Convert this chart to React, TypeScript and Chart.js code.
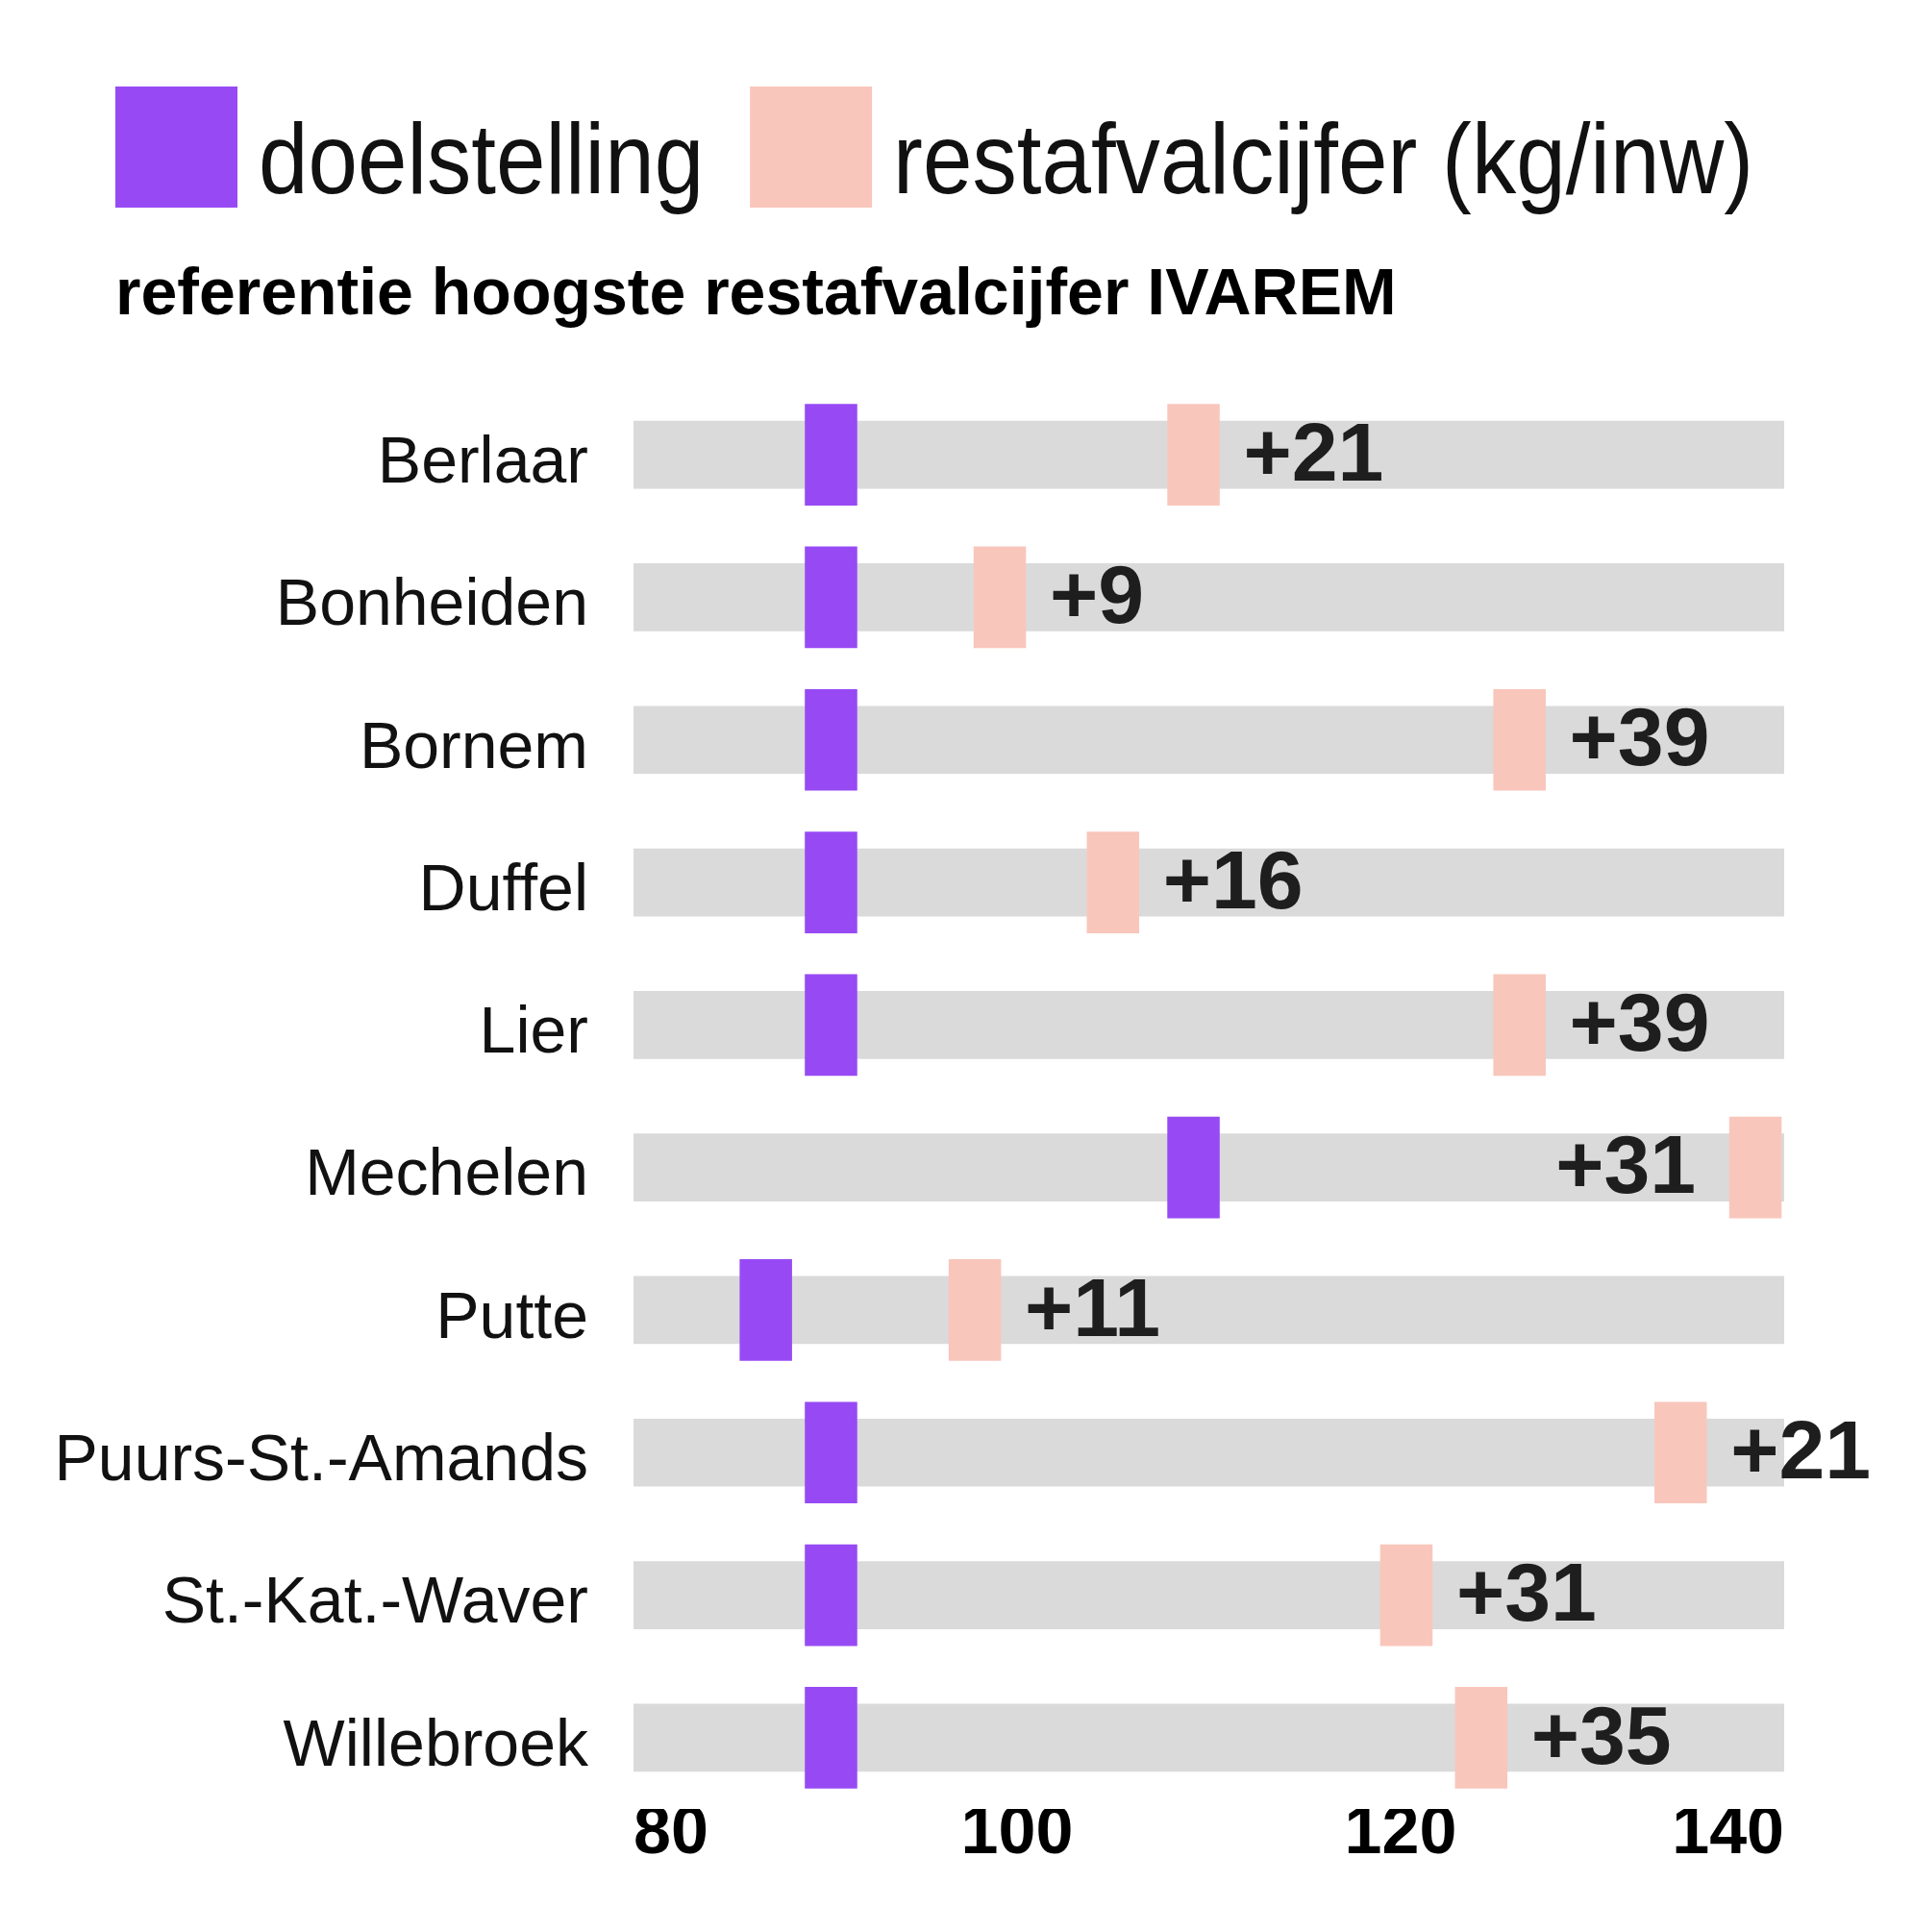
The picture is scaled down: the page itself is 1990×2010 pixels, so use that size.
import React, { useEffect, useRef } from 'react';
import { Chart, registerables } from 'chart.js';

Chart.register(...registerables);

// ---- data ----
const categories = [
  'Berlaar',
  'Bonheiden',
  'Bornem',
  'Duffel',
  'Lier',
  'Mechelen',
  'Putte',
  'Puurs-St.-Amands',
  'St.-Kat.-Waver',
  'Willebroek',
];
const doelstelling = [90.3, 90.3, 90.3, 90.3, 90.3, 109.2, 86.9, 90.3, 90.3, 90.3];
const restafvalcijfer = [109.2, 99.1, 126.2, 105.0, 126.2, 138.5, 97.8, 134.6, 120.3, 124.2];
const verschil = ['+21', '+9', '+39', '+16', '+39', '+31', '+11', '+21', '+31', '+35'];
const verschilZijde = ['rechts', 'rechts', 'rechts', 'rechts', 'rechts', 'links', 'rechts', 'rechts', 'rechts', 'rechts'];
const axisMin = 80;
const axisMax = 140;
const axisStep = 20;

const subTitle = 'referentie hoogste restafvalcijfer IVAREM';

// ---- styles ----
const PURPLE = '#974AF4';
const PINK = '#F9C6BC';
const GREY = '#DADADA';
const MARK_HALF = 1.35; // half width of a marker, in axis units

export default function App() {
  const canvasRef = useRef<HTMLCanvasElement | null>(null);

  useEffect(() => {
    if (!canvasRef.current) return;

    const legendPlugin = {
      id: 'customLegend',
      afterDraw(chart: any) {
        const ctx = chart.ctx as CanvasRenderingContext2D;
        const items = chart.data.datasets.filter((d: any) => !d.hideInLegend);
        const boxW = 127;
        const boxH = 126;
        const boxTop = 90;
        const baseline = 201;
        const scaleX = 0.89;
        let x = 120;
        ctx.save();
        ctx.font = '104px "Liberation Sans", Arial, sans-serif';
        ctx.textAlign = 'left';
        ctx.textBaseline = 'alphabetic';
        items.forEach((ds: any) => {
          ctx.fillStyle = ds.backgroundColor;
          ctx.fillRect(x, boxTop, boxW, boxH);
          x += boxW + 22;
          ctx.save();
          ctx.translate(x, baseline);
          ctx.scale(scaleX, 1);
          ctx.fillStyle = '#111111';
          ctx.fillText(ds.label, 0, 0);
          ctx.restore();
          x += ctx.measureText(ds.label).width * scaleX + 48;
        });
        // subtitle
        ctx.font = 'bold 68px "Liberation Sans", Arial, sans-serif';
        ctx.fillStyle = '#000000';
        ctx.textBaseline = 'middle';
        ctx.fillText(subTitle, 120, 308);
        ctx.restore();
      },
    };

    const valueLabelPlugin = {
      id: 'verschilLabels',
      afterDatasetsDraw(chart: any) {
        const ctx = chart.ctx as CanvasRenderingContext2D;
        const xs = chart.scales.x;
        const ys = chart.scales.y;
        ctx.save();
        ctx.font = 'bold 86px "Liberation Sans", Arial, sans-serif';
        ctx.fillStyle = '#1e1e1e';
        ctx.textBaseline = 'middle';
        restafvalcijfer.forEach((v, i) => {
          const y = ys.getPixelForValue(i) + 3;
          if (verschilZijde[i] === 'links') {
            ctx.textAlign = 'right';
            ctx.fillText(verschil[i], xs.getPixelForValue(v - MARK_HALF) - 35, y);
          } else {
            ctx.textAlign = 'left';
            ctx.fillText(verschil[i], xs.getPixelForValue(v + MARK_HALF) + 25, y);
          }
        });
        ctx.restore();
      },
    };

    const chart = new Chart(canvasRef.current, {
      type: 'bar',
      data: {
        labels: categories,
        datasets: [
          {
            label: 'doelstelling',
            data: doelstelling.map((v) => [v - MARK_HALF, v + MARK_HALF]),
            backgroundColor: PURPLE,
            barThickness: 105,
            grouped: false,
            borderWidth: 0,
          } as any,
          {
            label: 'restafvalcijfer (kg/inw)',
            data: restafvalcijfer.map((v) => [v - MARK_HALF, v + MARK_HALF]),
            backgroundColor: PINK,
            barThickness: 105,
            grouped: false,
            borderWidth: 0,
          } as any,
          {
            label: 'bereik',
            hideInLegend: true,
            data: categories.map(() => [axisMin, axisMax]),
            backgroundColor: GREY,
            barThickness: 70,
            grouped: false,
            borderWidth: 0,
          } as any,
        ],
      },
      options: {
        indexAxis: 'y',
        animation: false,
        responsive: true,
        maintainAspectRatio: false,
        devicePixelRatio: 1,
        events: [],
        layout: {
          padding: { top: 399, left: 0, right: 134, bottom: 0 },
        },
        plugins: {
          legend: { display: false },
          tooltip: { enabled: false },
          title: { display: false },
        },
        scales: {
          x: {
            type: 'linear',
            position: 'bottom',
            min: axisMin,
            max: axisMax,
            grid: { display: false, drawTicks: false },
            border: { display: false },
            ticks: {
              stepSize: axisStep,
              align: 'inner',
              padding: 0,
              color: '#000000',
              font: { family: '"Liberation Sans", Arial, sans-serif', size: 70, weight: 'bold', lineHeight: 0.77 },
            },
            afterFit: (s: any) => {
              s.height = 128;
            },
          },
          y: {
            type: 'category',
            grid: { display: false, drawTicks: false },
            border: { display: false },
            ticks: {
              autoSkip: false,
              padding: 47,
              labelOffset: 10,
              color: '#111111',
              font: { family: '"Liberation Sans", Arial, sans-serif', size: 68, weight: 'normal' },
            },
            afterFit: (s: any) => {
              s.width = 659;
            },
          },
        },
      } as any,
      plugins: [legendPlugin, valueLabelPlugin],
    });

    return () => {
      chart.destroy();
    };
  }, []);

  return (
    <div style={{ position: 'absolute', left: 0, top: 0, width: 1990, height: 2010, background: '#ffffff' }}>
      <canvas ref={canvasRef} />
    </div>
  );
}
